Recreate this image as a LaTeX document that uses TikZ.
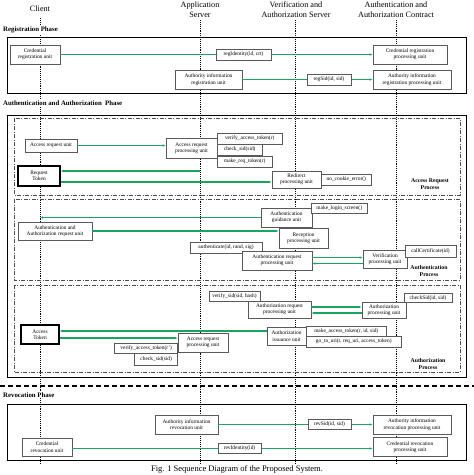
\documentclass[tikz,border=0pt]{standalone}
\usepackage{fontspec}
\setmainfont{Liberation Serif}
\usetikzlibrary{arrows.meta}

\definecolor{msggreen}{RGB}{25,165,95}

\begin{document}
\begin{tikzpicture}[
    x=1pt, y=-1pt,
    >={Latex[length=3.2pt,width=2.6pt]},
    wh/.style 2 args={minimum width=#1pt, minimum height=#2pt},
    unit/.style={draw=black!65, fill=white, line width=0.55pt, align=center, inner sep=0.5pt, font=\fontsize{5.4}{6.4}\selectfont},
    call/.style={unit},
    token/.style={unit, draw=black, line width=1.1pt},
    msg/.style={msggreen, line width=1.05pt},
    lifeline/.style={densely dotted, line width=0.9pt},
    frame/.style={line width=0.9pt},
    process/.style={draw=black!70, line width=0.6pt, dash pattern=on 4pt off 1.5pt on 1pt off 1.5pt},
    phase/.style={anchor=west, inner sep=1pt, fill=white, font=\bfseries\fontsize{6.8}{8}\selectfont},
    procname/.style={align=center, font=\bfseries\fontsize{5.8}{7}\selectfont},
    actor/.style={align=center, inner sep=1pt, font=\fontsize{8.2}{10}\selectfont}
]

\fill[white] (0,0) rectangle (474,475);
\useasboundingbox (0,0) rectangle (474,475);

% Actors and lifelines
\node[actor] (client) at (40,9) {Client};
\node[actor] (app) at (200,9.5) {Application\\Server};
\node[actor] (vas) at (296,9.5) {Verification and\\Authorization Server};
\node[actor] (aac) at (396,9.5) {Authentication and\\Authorization Contract};

\coordinate (clientTop) at (40,18);
\coordinate (clientEnd) at (40,463);
\coordinate (appTop) at (200,20);
\coordinate (appEnd) at (200,463);
\coordinate (vasTop) at (295,20);
\coordinate (vasEnd) at (295,463);
\coordinate (aacTop) at (396,20);
\coordinate (aacEnd) at (396,463);

\draw[lifeline] (clientTop) -- (clientEnd);
\draw[lifeline] (appTop) -- (appEnd);
\draw[lifeline] (vasTop) -- (vasEnd);
\draw[lifeline] (aacTop) -- (aacEnd);

% Phase frames
\draw[frame] (7,37) rectangle (466,93);
\draw[frame] (7,115) rectangle (466,377);
\draw[frame] (7,404) rectangle (466,460);
\draw[process] (14,118) rectangle (460,195);
\draw[process] (14,199) rectangle (460,280);
\draw[process] (14,285) rectangle (460,372);
\draw[line width=1.2pt, dash pattern=on 5pt off 3pt] (0,386) -- (474,386);

\node[phase] (regPhase) at (2,30) {Registration Phase};
\node[phase] (aaPhase) at (2,103) {Authentication and Authorization\ \ Phase};
\node[phase] (revPhase) at (2,395) {Revocation Phase};

% Registration phase
\node[unit, wh={50}{19}] (credReg) at (35,54.5) {Credential\\registration unit};
\node[unit, wh={74}{19}] (credRegProc) at (410,54.5) {Credential registration\\processing unit};
\node[unit, wh={67}{19}] (authInfoReg) at (208.5,79.5) {Authority information\\registration unit};
\node[unit, wh={78}{19}] (authInfoRegProc) at (412,79.5) {Authority information\\registration processing unit};

\draw[msg, ->] (credReg) -- (credRegProc);
\draw[msg, ->] (authInfoReg) -- (authInfoRegProc);
\node[call, wh={55}{11}] (regId) at (243.5,54.5) {regIdentity(id, crt)};
\node[call, wh={44}{11}] (regSid) at (329,79.5) {regSid(id, sid)};

% Access request process
\node[unit, wh={52}{13}] (accReq) at (51,145.5) {Access request unit};
\node[unit, wh={51}{20}] (accReqProc) at (191.5,148) {Access request\\processing unit};
\node[call, wh={65}{11}, anchor=west] (verifyTok) at (217,138.5) {verify\_access\_token(r)};
\node[call, wh={45}{11}, anchor=west] (checkSidA) at (217,149.5) {check\_sid(sid)};
\node[call, wh={55}{11}, anchor=west] (makeReq) at (217,161.5) {make\_req\_token(r)};
\node[token, wh={42}{20}] (reqTok) at (39,176) {Request\\Token};
\node[unit, wh={49}{17}] (redirect) at (296.5,179.5) {Redirect\\processing unit};
\node[call, wh={50}{11}, anchor=west] (noCookie) at (321,179.5) {no\_cookie\_error()};
\node[procname] (arLabel) at (430,184.5) {Access Request\\Process};

\draw[msg, ->] (accReq.east) -- (accReq.east -| accReqProc.west);
\draw[msg, <-] ([yshift=5pt]reqTok.east) -- ([yshift=5pt]reqTok.east -| appTop);
\draw[msg, ->] ([yshift=-6pt]reqTok.east) -- ([yshift=-6pt]reqTok.east -| redirect.west);

% Authentication process
\node[unit, wh={51}{19}] (guidance) at (286.5,217.5) {Authentication\\guidance unit};
\node[call, wh={56}{10}, anchor=west] (loginScr) at (311,208.5) {make\_login\_screen()};
\node[unit, wh={74}{18}] (aaReq) at (55,231) {Authentication and\\Authorization request unit};
\node[unit, wh={49}{20}] (reception) at (303.5,238) {Reception\\processing unit};
\node[call, wh={72}{11}] (authenticate) at (226,247.5) {authenticate(id, rand, sig)};
\node[unit, wh={70}{19}] (authReqProc) at (277,260.5) {Authentication request\\processing unit};
\node[unit, wh={44}{18}] (verif) at (385,259) {Verification\\processing unit};
\node[call, wh={51}{12}] (callCert) at (430.5,251) {callCertificate(id)};
\node[procname] (anLabel) at (429,271) {Authentication\\Process};

\draw[msg, ->] (guidance.west) -- (guidance.west -| clientTop);
\draw[msg, ->] (aaReq.east) -- (aaReq.east -| reception.west);
\draw[msg, ->] ([yshift=3pt]authReqProc.east) -- ([yshift=3pt]authReqProc.east -| verif.west);
\draw[msg, <-] ([yshift=-3pt]authReqProc.east) -- ([yshift=-3pt]authReqProc.east -| verif.west);

% Authorization process
\node[call, wh={51}{10}] (verifySid) at (234.5,296) {verify\_sid(sid, hash)};
\node[unit, wh={63}{17}] (authzReq) at (279.5,309.5) {Authorization request\\processing unit};
\node[unit, wh={44}{16}] (authzProc) at (384,310) {Authorization\\processing unit};
\node[call, wh={48}{9}] (checkSidB) at (428,298) {checkSid(id, sid)};
\node[unit, wh={39}{18}] (issuance) at (286.5,336) {Authorization\\issuance unit};
\node[call, wh={80}{10}, anchor=west] (makeAcc) at (306,331) {make\_access\_token(r, id, sid)};
\node[call, wh={95}{11}, anchor=west] (goTo) at (306,341.5) {go\_to\_uri(r, req\_uri, access\_token)};
\node[token, wh={38}{19}] (accTok) at (40,334.5) {Access\\Token};
\node[unit, wh={50}{19}] (accReqProcB) at (203,342.5) {Access request\\processing unit};
\node[call, wh={63}{10}, anchor=east] (verifyTokB) at (178,348) {verify\_access\_token(r')};
\node[call, wh={43}{12}, anchor=east] (checkSidC) at (178,359) {check\_sid(sid)};
\node[procname] (azLabel) at (428,364) {Authorization\\Process};

\draw[msg, ->] ([yshift=2.5pt]authzReq.east) -- ([yshift=2.5pt]authzReq.east -| authzProc.west);
\draw[msg, <-] ([yshift=-3.5pt]authzReq.east) -- ([yshift=-3.5pt]authzReq.east -| authzProc.west);
\draw[msg, ->] ([yshift=5pt]issuance.west) -- ([yshift=5pt]issuance.west -| accTok.east);
\draw[msg, ->] ([yshift=-3.5pt]accTok.east) -- ([yshift=-3.5pt]accTok.east -| accReqProcB.west);

% Revocation phase
\node[unit, wh={63}{19}] (authInfoRev) at (186.5,424.5) {Authority information\\revocation unit};
\node[unit, wh={78}{19}] (authInfoRevProc) at (412,424.5) {Authority information\\revocation processing unit};
\node[unit, wh={50}{18}] (credRev) at (47,447) {Credential\\revocation unit};
\node[unit, wh={74}{19}] (credRevProc) at (410,447) {Credential revocation\\processing unit};

\draw[msg, ->] (authInfoRev) -- (authInfoRevProc);
\draw[msg, ->] ([yshift=-1.5pt]credRev.east) -- ([yshift=-1.5pt]credRev.east -| credRevProc.west);
\node[call, wh={43}{10}] (revSid) at (329.5,424.5) {revSid(id, sid)};
\node[call, wh={43}{10}] (revId) at (239.5,448.5) {revIdentity(id)};

% Caption
\node[font=\fontsize{8.5}{10}\selectfont] (caption) at (237,469) {Fig. 1 Sequence Diagram of the Proposed System.};

\end{tikzpicture}
\end{document}
